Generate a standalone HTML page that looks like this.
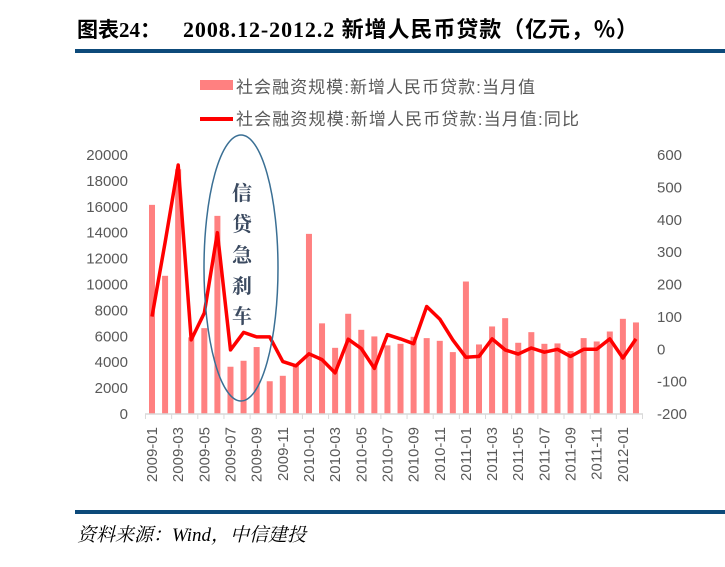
<!DOCTYPE html>
<html><head><meta charset="utf-8"><style>
body{margin:0;background:#fff;width:725px;height:567px;overflow:hidden;}
svg{display:block;}
</style></head><body>
<svg width="725" height="567" xmlns="http://www.w3.org/2000/svg">
<text x="77" y="37" font-family="'Liberation Serif','Noto Sans CJK SC',serif" font-size="21" font-weight="bold" fill="#000">图表24：</text>
<text x="183" y="37" font-size="22" font-weight="bold" fill="#000" textLength="455"><tspan font-family="'Liberation Serif',serif">2008.12-2012.2 </tspan><tspan font-family="'Noto Sans CJK SC',sans-serif">新增人民币贷款（亿元，%）</tspan></text>
<rect x="75" y="49" width="650" height="4" fill="#0d4a7a"/>
<g>
<rect x="200" y="80" width="33" height="10" fill="#ff8080"/>
<text x="236" y="93" font-family="'Liberation Sans','Noto Sans CJK SC',sans-serif" font-size="17" fill="#595959" textLength="299">社会融资规模:新增人民币贷款:当月值</text>
<line x1="200" y1="119" x2="233" y2="119" stroke="#ff0000" stroke-width="4"/>
<text x="236" y="125" font-family="'Liberation Sans','Noto Sans CJK SC',sans-serif" font-size="17" fill="#595959" textLength="343">社会融资规模:新增人民币贷款:当月值:同比</text>
</g>
<g id="plot"></g>
<ellipse cx="241" cy="268" rx="37" ry="133" fill="none" stroke="#3a6f94" stroke-width="1.5"/>
<g font-family="'Liberation Serif','Noto Serif CJK SC',serif" font-size="20" font-weight="bold" fill="#3b4a60" text-anchor="middle">
<text x="242" y="200">信</text><text x="242" y="231">贷</text><text x="242" y="262">急</text><text x="242" y="293">刹</text><text x="242" y="323">车</text>
</g>
<rect x="75" y="510" width="650" height="4" fill="#0d4a7a"/>
<text x="77" y="541" font-family="'Liberation Serif','Noto Serif CJK SC',serif" font-size="19" font-style="italic" fill="#000">资料来源：Wind，中信建投</text>
</svg>
<script>
const categories=["2009-01","2009-02","2009-03","2009-04","2009-05","2009-06","2009-07","2009-08","2009-09","2009-10","2009-11","2009-12","2010-01","2010-02","2010-03","2010-04","2010-05","2010-06","2010-07","2010-08","2010-09","2010-10","2010-11","2010-12","2011-01","2011-02","2011-03","2011-04","2011-05","2011-06","2011-07","2011-08","2011-09","2011-10","2011-11","2011-12","2012-01","2012-02"];
const loans=[16150,10670,18900,5920,6630,15300,3650,4110,5170,2530,2950,3790,13910,7000,5110,7740,6500,5990,5300,5420,5960,5860,5650,4780,10230,5370,6760,7400,5500,6320,5420,5450,4860,5860,5600,6370,7350,7070];
const yoy=[101,330,569,29,112,360,-2,52,38,38,-38,-51,-14,-32,-73,31,2,-59,45,32,17,132,93,29,-25,-22,32,-2,-15,4,-9,0,-22,0,0,32,-27,32];
const leftTicks=[0,2000,4000,6000,8000,10000,12000,14000,16000,18000,20000];
const rightTicks=[-200,-100,0,100,200,300,400,500,600];
const NS="http://www.w3.org/2000/svg";
const g=document.getElementById('plot');
const x0=152,step=13.08,yTop=155,yBot=414;
const xs=i=>x0+i*step;
const yL=v=>yBot-(v/20000)*(yBot-yTop);
const yR=v=>yBot-((v+200)/800)*(yBot-yTop);
function mk(t,a){const e=document.createElementNS(NS,t);for(const k in a)e.setAttribute(k,a[k]);g.appendChild(e);return e;}
const font="'Liberation Sans',sans-serif";
leftTicks.forEach(v=>{const t=mk('text',{x:128,y:yL(v)+5,'text-anchor':'end','font-family':font,'font-size':15,fill:'#595959'});t.textContent=v;

});
rightTicks.forEach(v=>{const t=mk('text',{x:657,y:yR(v)+5,'font-family':font,'font-size':15,fill:'#595959'});t.textContent=v;

});
loans.forEach((v,i)=>{const r=mk('rect',{x:xs(i)-3,y:yL(v),width:6,height:yBot-yL(v),fill:'#ff8080'});

});
const ax=mk('line',{x1:145,y1:yBot,x2:643,y2:yBot,stroke:'#d9d9d9','stroke-width':1.5});


for(let i=0;i<=categories.length;i+=2){const tk=mk('line',{x1:xs(i)-step/2,y1:yBot,x2:xs(i)-step/2,y2:yBot+5,stroke:'#d9d9d9'});

}
const pts=yoy.map((v,i)=>xs(i).toFixed(1)+','+yR(v).toFixed(1)).join(' ');
const pl=mk('polyline',{points:pts,fill:'none',stroke:'#ff0000','stroke-width':3.5,'stroke-linejoin':'round'});


categories.forEach((c,i)=>{if(i%2)return;const x=xs(i)+5;const t=mk('text',{x:x,y:427,'text-anchor':'end','font-family':font,'font-size':15,fill:'#595959',transform:`rotate(-90 ${x} 427)`});t.textContent=c;

});
</script>
</body></html>
